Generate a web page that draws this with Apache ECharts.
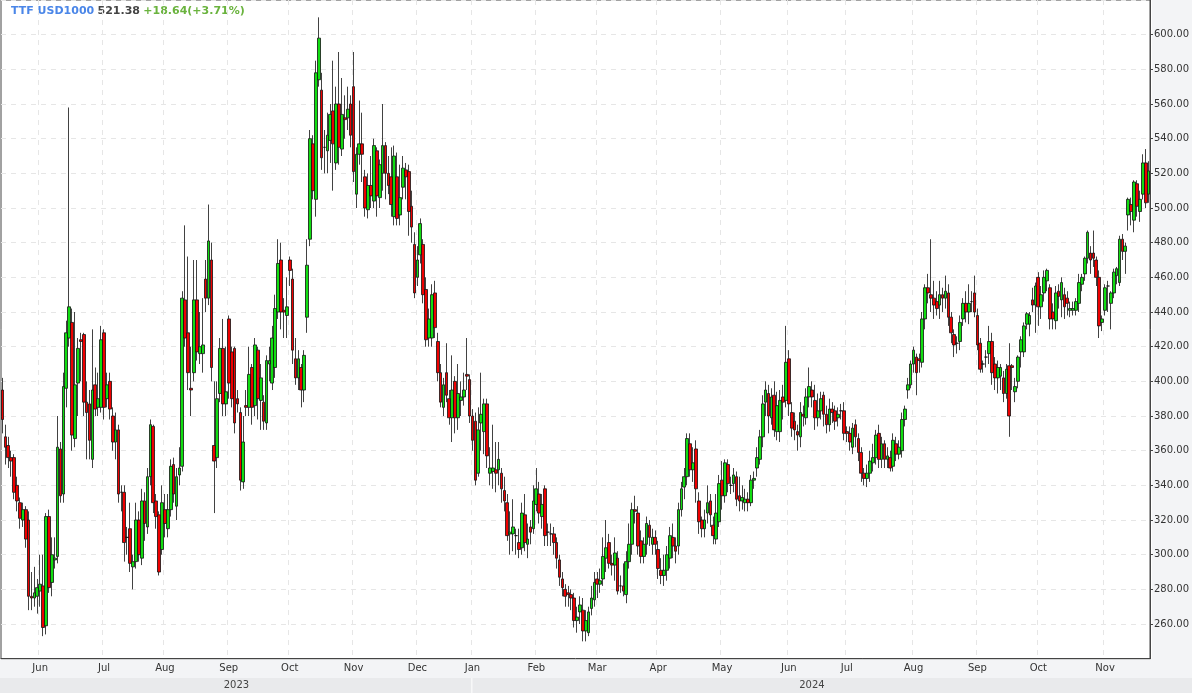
<!DOCTYPE html>
<html><head><meta charset="utf-8">
<script src="https://cdn.jsdelivr.net/npm/echarts@6/dist/echarts.min.js"></script>
<style>html,body{margin:0;padding:0;background:#fff}#c{width:1192px;height:693px}</style>
</head><body><div id="c"></div>
<script>
// [open, close, low, high]
const ohlc = [
[395,378,370,402],[368,362,352,375],[363,356,350,368],[356,354,345,360],[356,336,332,358],[340,331,325,345],[330,321,315,333],[320,326,316,330],[326,309,304,328],[320,276,268,325],
[276,275,268,290],[275,278,270,293],[276,281,266,286],[279,283,270,300],[282,258,253,300],[259,322,254,324],[322,281,278,326],[284,300,276,310],[297,298,292,310],[299,362,295,380],
[361,334,330,365],[335,397,330,405],[396,428,385,435],[425,443,420,558],[434,369,360,442],[367,398,362,440],[399,419,380,425],[424,423,400,428],[427,388,380,428],[388,382,355,400],
[387,366,355,395],[355,395,350,430],[398,384,380,408],[385,390,380,405],[385,424,382,432],[428,385,378,430],[390,398,385,405],[400,384,378,405],[380,365,360,385],[365,372,355,382],
[372,335,330,375],[336,336,325,340],[336,307,296,340],[310,310,300,316],[315,295,290,330],[293,296,280,300],[296,320,292,330],[320,300,296,325],[298,331,294,338],[331,318,308,336],
[316,345,312,350],[345,375,340,378],[374,330,324,375],[331,322,315,335],[323,290,288,325],[303,330,300,340],[326,318,310,335],[315,326,310,335],[326,351,322,355],[352,335,330,356],
[328,345,320,350],[346,350,340,362],[351,448,348,452],[447,425,420,490],[428,405,395,472],[396,395,380,420],[405,447,400,470],[447,417,412,470],[416,420,410,440],[416,421,405,448],
[459,448,440,470],[448,481,444,502],[470,408,400,480],[363,354,324,400],[356,390,350,400],[393,419,388,425],[419,387,380,436],[387,394,380,420],[436,399,390,438],[417,390,385,420],
[419,376,370,420],[390,387,382,395],[382,343,337,385],[342,365,338,380],[386,385,380,395],[385,404,380,420],[408,385,375,410],[386,421,380,425],[418,390,378,420],[389,402,372,410],
[388,377,372,392],[376,412,372,415],[410,412,400,420],[399,425,395,432],[408,442,402,450],[440,468,436,482],[470,440,430,480],[441,440,425,448],[438,443,425,460],[470,464,455,472],
[459,418,410,465],[413,402,398,425],[402,413,395,418],[408,395,385,410],[395,415,388,418],[437,467,428,482],[482,540,478,545],[537,510,505,542],[505,578,495,585],[574,598,570,610],
[568,529,522,578],[535,535,520,545],[533,542,520,555],[539,554,526,560],[556,537,510,585],[526,560,522,570],[560,535,525,590],[534,554,530,575],[552,551,540,565],[552,557,545,570],
[560,542,535,565],[570,521,515,590],[508,531,500,535],[531,537,525,562],[537,531,515,555],[518,500,495,522],[499,513,494,520],[513,507,500,530],[504,536,500,540],[533,507,495,535],
[506,525,500,528],[520,536,510,560],[536,520,505,538],[520,513,508,530],[518,502,495,535],[495,530,490,536],[518,494,490,532],[496,506,490,525],[512,523,505,530],[522,518,505,526],
[521,498,484,525],[501,489,480,510],[479,451,448,486],[460,470,455,478],[473,491,468,494],[479,450,445,482],[453,424,420,460],[425,436,420,442],[425,450,420,456],[451,431,425,458],
[423,405,400,428],[405,388,385,410],[385,398,380,402],[405,392,388,422],[390,379,375,395],[379,395,365,415],[400,379,370,403],[379,393,372,410],[389,391,380,400],[391,395,386,405],
[404,403,395,425],[401,380,376,404],[380,366,360,384],[377,343,340,382],[347,372,345,385],[376,381,360,405],[371,387,358,390],[387,357,350,390],[347,350,340,362],[348,350,338,375],
[349,347,336,365],[349,355,340,365],[347,338,330,350],[337,331,325,345],[330,311,308,335],[312,313,300,325],[312,316,302,332],[311,311,300,315],[307,303,298,315],[304,324,300,330],
[323,307,302,335],[306,309,298,318],[316,313,306,320],[315,331,312,340],[329,338,325,350],[335,324,318,342],[322,329,315,335],[338,311,305,340],[313,313,305,318],[312,312,305,318],
[312,307,300,316],[307,298,292,310],[297,287,282,300],[286,281,276,290],[280,276,270,283],[278,277,270,282],[277,275,268,280],[275,262,258,278],[262,264,255,270],[267,271,260,276],
[268,256,250,275],[256,262,250,268],[255,267,253,270],[269,275,265,282],[274,284,270,290],[286,283,275,290],[283,285,278,292],[286,299,282,310],[298,304,290,320],[307,295,292,312],
[295,294,288,300],[294,301,285,310],[298,279,277,302],[282,282,278,288],[282,279,276,295],[277,296,272,302],[296,306,292,318],[306,326,300,330],[326,325,318,334],[324,305,300,328],
[308,299,295,314],[299,306,295,310],[306,318,300,322],[317,310,305,320],[306,310,300,315],[310,306,300,314],[303,292,286,308],[291,288,283,298],[288,291,282,300],[291,300,285,305],
[298,311,292,316],[310,305,298,318],[305,302,295,310],[305,326,300,330],[326,338,322,342],[339,345,332,350],[345,367,340,370],[364,349,345,370],[349,353,342,362],[361,338,330,366],
[331,319,312,336],[320,315,310,322],[315,320,310,326],[324,330,318,340],[331,323,316,335],[317,311,306,322],[309,324,306,335],[319,341,316,346],[343,334,326,354],[334,353,330,355],
[352,341,336,355],[340,340,335,345],[341,346,336,350],[345,332,328,348],[334,331,325,345],[331,333,326,340],[330,332,325,338],[332,330,325,336],[330,343,328,346],[343,344,338,348],
[350,356,345,362],[355,368,352,372],[368,387,362,392],[388,395,380,400],[393,380,370,398],[379,391,375,396],[392,372,368,400],[371,386,366,394],[371,389,365,395],[391,388,378,398],
[389,411,385,432],[413,387,380,418],[382,373,368,388],[377,372,366,382],[371,369,360,375],[368,382,362,388],[381,380,374,386],[379,391,375,396],[391,397,385,408],[395,391,385,400],
[389,379,372,398],[379,383,374,393],[383,390,378,394],[392,381,374,394],[381,375,370,386],[375,384,371,390],[384,382,376,388],[383,377,372,386],[379,381,374,385],[383,383,378,387],
[383,370,366,388],[371,370,365,374],[370,365,360,374],[362,373,358,376],[375,368,362,378],[367,359,354,370],[359,347,342,362],[347,344,340,350],[344,347,339,352],[347,354,342,360],
[353,356,348,364],[356,369,352,372],[370,355,350,375],[355,364,350,368],[364,355,350,366],[355,357,350,362],[356,350,348,360],[351,366,348,370],[364,358,354,368],[358,362,355,366],
[360,378,356,382],[378,384,374,386],[395,398,390,402],[398,410,396,412],[410,418,405,420],[414,405,392,416],[413,412,405,416],[411,436,408,440],[436,454,430,456],[454,451,445,462],
[450,448,440,482],[448,444,436,458],[446,442,438,452],[444,450,436,458],[450,448,440,454],[448,452,442,461],[451,437,432,456],[437,428,422,440],[427,421,414,430],[422,422,416,426],
[423,434,418,438],[436,445,432,448],[445,440,434,452],[440,445,433,456],[446,446,440,452],[451,440,437,461],[438,421,418,442],[422,407,405,425],[410,410,405,412],[414,414,408,418],
[416,423,410,432],[423,405,398,428],[410,402,395,414],[402,408,393,412],[403,408,395,410],[402,393,388,406],[393,407,390,410],[409,380,368,422],[409,408,395,410],[394,397,388,402],
[400,414,396,415],[417,424,408,426],[417,432,414,434],[433,439,430,440],[433,438,426,440],[447,444,440,454],[444,455,428,457],[460,443,432,463],[443,450,436,455],[451,460,446,464],
[458,464,452,465],[454,436,430,456],[440,436,430,445],[435,451,430,455],[452,449,442,456],[447,457,437,460],[450,443,436,454],[448,445,438,452],[441,442,437,446],[441,442,438,446],
[441,446,438,448],[445,457,440,462],[456,460,452,462],[462,471,458,472],[471,486,468,487],[474,470,462,478],[474,471,466,487],[470,460,455,472],[460,432,425,464],[434,436,429,438],
[441,454,438,456],[455,455,440,458],[445,451,430,452],[451,463,448,465],[461,465,456,466],[457,482,455,484],[482,475,470,485],[475,478,462,480],[496,505,487,506],[502,498,490,506],
[493,515,486,516],[514,501,495,516],[498,505,492,510],[508,526,505,531],[526,503,500,534],[508,521.38,503,527]
];
const lastDate = '2024-11-22';
const holidays = ['2023-05-29','2023-08-28','2023-12-25','2023-12-26','2024-01-01'];
const monthNames = ['Jan','Feb','Mar','Apr','May','Jun','Jul','Aug','Sep','Oct','Nov','Dec'];
const yearLabels = ['2023','2024'];
const header = {name:'TTF USD1000', last:'521.38', change:'+18.64(+3.71%)'};

// trading-day categories, counted back from the last date
const dates = [];
{ let d = new Date(lastDate+'T12:00:00Z');
  while (dates.length < ohlc.length) {
    const wd = d.getUTCDay(); const s = d.toISOString().slice(0,10);
    if (wd !== 0 && wd !== 6 && holidays.indexOf(s) < 0) dates.unshift(s);
    d = new Date(d.getTime() - 86400000);
  } }
const monthStart = dates.map((s,i)=> i>0 && s.slice(5,7)!==dates[i-1].slice(5,7));
const yearStartIdx = dates.findIndex((s,i)=> i>0 && s.slice(0,4)!==dates[i-1].slice(0,4));
const candles = ohlc.map(r=>[r[0],r[1],r[2],r[3]]);

const chart = echarts.init(document.getElementById('c'));
const W=1192, H=693, gl=1, gr=40, gt=-0.7, gb=34.3;
const plotW = W-gl-gr;
const yearX = plotW*yearStartIdx/ohlc.length + gl;
chart.setOption({
  animation:false,
  textStyle:{fontFamily:'DejaVu Sans'},
  grid:{left:gl,right:gr,top:gt,bottom:gb,show:true,borderColor:'#444',borderWidth:1,backgroundColor:'#fff'},
  graphic:[
    {type:'rect',z:-10,shape:{x:W-gr,y:0,width:gr,height:H},style:{fill:'#f3f4f6'}},
    {type:'rect',z:-10,shape:{x:0,y:H-gb,width:W,height:20},style:{fill:'#f3f4f6'}},
    {type:'rect',z:-10,shape:{x:0,y:H-15,width:W,height:15},style:{fill:'#e9eaec'}},
    {type:'line',z:-5,shape:{x1:yearX,y1:H-15,x2:yearX,y2:H},style:{stroke:'#fff',lineWidth:1}},
    {type:'text',style:{x:(gl+yearX)/2,y:H-8,text:yearLabels[0],textAlign:'center',textVerticalAlign:'middle',fill:'#444',font:'10px DejaVu Sans'}},
    {type:'text',style:{x:(yearX+W-gr)/2,y:H-8,text:yearLabels[1],textAlign:'center',textVerticalAlign:'middle',fill:'#444',font:'10px DejaVu Sans'}},
    {type:'text',style:{x:11,y:11,textVerticalAlign:'middle',
      text:'{a|'+header.name+'} {b|'+header.last+'} {c|'+header.change+'}',
      rich:{a:{fill:'#4a86e8',font:'bold 11px DejaVu Sans'},b:{fill:'#444',font:'bold 11px DejaVu Sans'},c:{fill:'#6ab33e',font:'bold 11px DejaVu Sans'}}}}
  ],
  xAxis:{type:'category',data:dates,boundaryGap:true,
    axisLine:{lineStyle:{color:'#444'}},
    axisTick:{interval:(i)=>monthStart[i],length:3,lineStyle:{color:'#444'}},
    axisLabel:{interval:(i)=>monthStart[i],formatter:(v)=>monthNames[+v.slice(5,7)-1],color:'#333',fontSize:10,margin:5},
    splitLine:{show:true,interval:(i)=>monthStart[i],lineStyle:{color:'#e6e6e6',type:[5,5]}}},
  yAxis:{type:'value',position:'right',min:240,max:620,interval:20,scale:true,
    axisLine:{show:true,lineStyle:{color:'#444'}},
    axisTick:{show:true,length:3,lineStyle:{color:'#444'}},
    axisLabel:{showMinLabel:false,showMaxLabel:false,formatter:(v)=>v.toFixed(2),color:'#333',fontSize:10,margin:4},
    splitLine:{lineStyle:{color:'#e6e6e6',type:[5,5]}}},
  series:[{type:'candlestick',data:candles,barWidth:3.2,
    itemStyle:{color:'#11dd11',color0:'#ee0000',borderColor:'#111',borderColor0:'#111',borderWidth:0.8},
    markLine:{symbol:'none',silent:true,animation:false,
      data:[{yAxis:521.38}],lineStyle:{opacity:0},
      label:{position:'end',formatter:'521.38',backgroundColor:'#333',color:'#fff',fontSize:10,padding:[2,2],distance:2}}}]
});
</script></body></html>
